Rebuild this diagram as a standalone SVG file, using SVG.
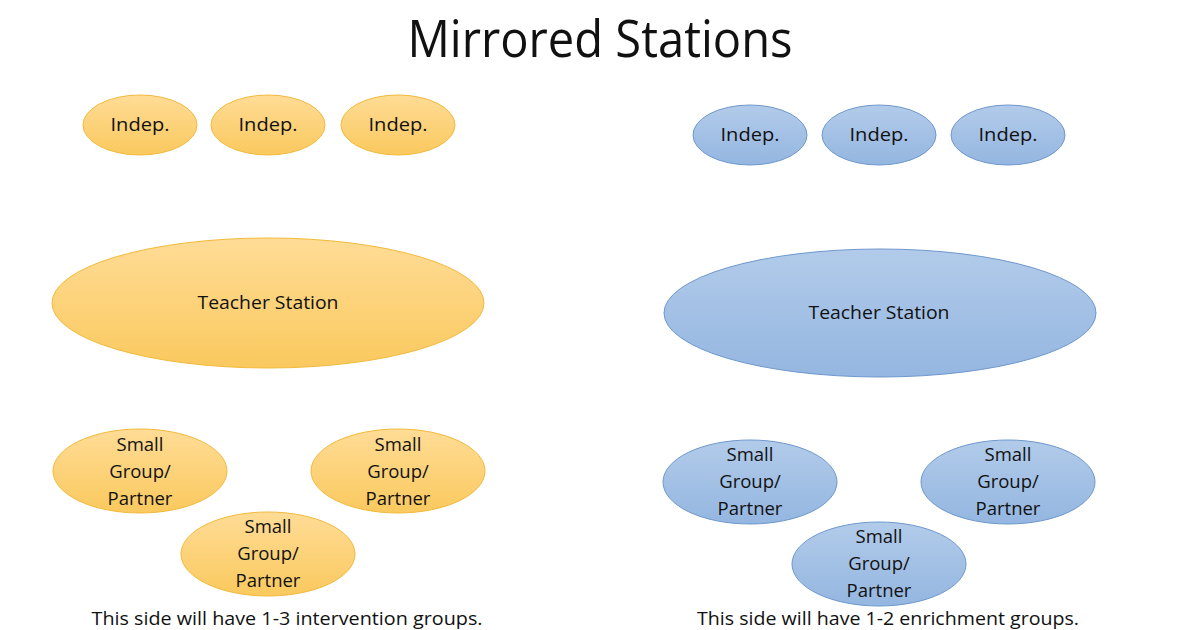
<svg xmlns="http://www.w3.org/2000/svg" width="1200" height="630" viewBox="0 0 1200 630">
<defs>
<linearGradient id="gO" x1="0" y1="0" x2="0" y2="1">
<stop offset="0" stop-color="#FFDC96"/>
<stop offset="1" stop-color="#FAC95E"/>
</linearGradient>
<linearGradient id="gB" x1="0" y1="0" x2="0" y2="1">
<stop offset="0" stop-color="#B2CBEA"/>
<stop offset="1" stop-color="#94B6E0"/>
</linearGradient>
</defs>
<style>
.o{fill:url(#gO);stroke:#F2BA3C;stroke-width:1}
.b{fill:url(#gB);stroke:#6F98CC;stroke-width:1}
text{font-family:"Open Sans","Liberation Sans",sans-serif;fill:#111;text-anchor:middle}
.l{font-size:18.5px}
.t{font-size:52px}
.c{font-size:17.5px}
</style>
<rect width="1200" height="630" fill="#fff"/>
<text class="t" x="600" y="57" textLength="385" lengthAdjust="spacingAndGlyphs">Mirrored Stations</text>
<g id="connectors"/>
<g id="o-indep1"><ellipse class="o" cx="140" cy="125" rx="57" ry="30"/><text class="l" x="140" y="131" textLength="59" lengthAdjust="spacingAndGlyphs">Indep.</text></g>
<g id="o-indep2"><ellipse class="o" cx="268" cy="125" rx="57" ry="30"/><text class="l" x="268" y="131" textLength="59" lengthAdjust="spacingAndGlyphs">Indep.</text></g>
<g id="o-indep3"><ellipse class="o" cx="398" cy="125" rx="57" ry="30"/><text class="l" x="398" y="131" textLength="59" lengthAdjust="spacingAndGlyphs">Indep.</text></g>
<g id="o-teacher"><ellipse class="o" cx="268" cy="303" rx="216" ry="65"/><text class="l" x="268" y="309" textLength="141" lengthAdjust="spacingAndGlyphs">Teacher Station</text></g>
<g id="o-small1"><ellipse class="o" cx="140" cy="471" rx="87" ry="42"/><text class="l" x="140" y="451">Small</text><text class="l" x="140" y="478">Group/</text><text class="l" x="140" y="505">Partner</text></g>
<g id="o-small2"><ellipse class="o" cx="398" cy="471" rx="87" ry="42"/><text class="l" x="398" y="451">Small</text><text class="l" x="398" y="478">Group/</text><text class="l" x="398" y="505">Partner</text></g>
<g id="o-small3"><ellipse class="o" cx="268" cy="554" rx="87" ry="42"/><text class="l" x="268" y="533">Small</text><text class="l" x="268" y="560">Group/</text><text class="l" x="268" y="587">Partner</text></g>
<g id="b-indep1"><ellipse class="b" cx="750" cy="135" rx="57" ry="30"/><text class="l" x="750" y="141" textLength="59" lengthAdjust="spacingAndGlyphs">Indep.</text></g>
<g id="b-indep2"><ellipse class="b" cx="879" cy="135" rx="57" ry="30"/><text class="l" x="879" y="141" textLength="59" lengthAdjust="spacingAndGlyphs">Indep.</text></g>
<g id="b-indep3"><ellipse class="b" cx="1008" cy="135" rx="57" ry="30"/><text class="l" x="1008" y="141" textLength="59" lengthAdjust="spacingAndGlyphs">Indep.</text></g>
<g id="b-teacher"><ellipse class="b" cx="880" cy="313" rx="216" ry="64"/><text class="l" x="879" y="319" textLength="141" lengthAdjust="spacingAndGlyphs">Teacher Station</text></g>
<g id="b-small1"><ellipse class="b" cx="750" cy="482" rx="87" ry="42"/><text class="l" x="750" y="461">Small</text><text class="l" x="750" y="488">Group/</text><text class="l" x="750" y="515">Partner</text></g>
<g id="b-small2"><ellipse class="b" cx="1008" cy="482" rx="87" ry="42"/><text class="l" x="1008" y="461">Small</text><text class="l" x="1008" y="488">Group/</text><text class="l" x="1008" y="515">Partner</text></g>
<g id="b-small3"><ellipse class="b" cx="879" cy="564" rx="87" ry="42"/><text class="l" x="879" y="543">Small</text><text class="l" x="879" y="570">Group/</text><text class="l" x="879" y="597">Partner</text></g>
<text class="c" x="287" y="625" textLength="391" lengthAdjust="spacingAndGlyphs">This side will have 1-3 intervention groups.</text>
<text class="c" x="888" y="625" textLength="382" lengthAdjust="spacingAndGlyphs">This side will have 1-2 enrichment groups.</text>
</svg>
